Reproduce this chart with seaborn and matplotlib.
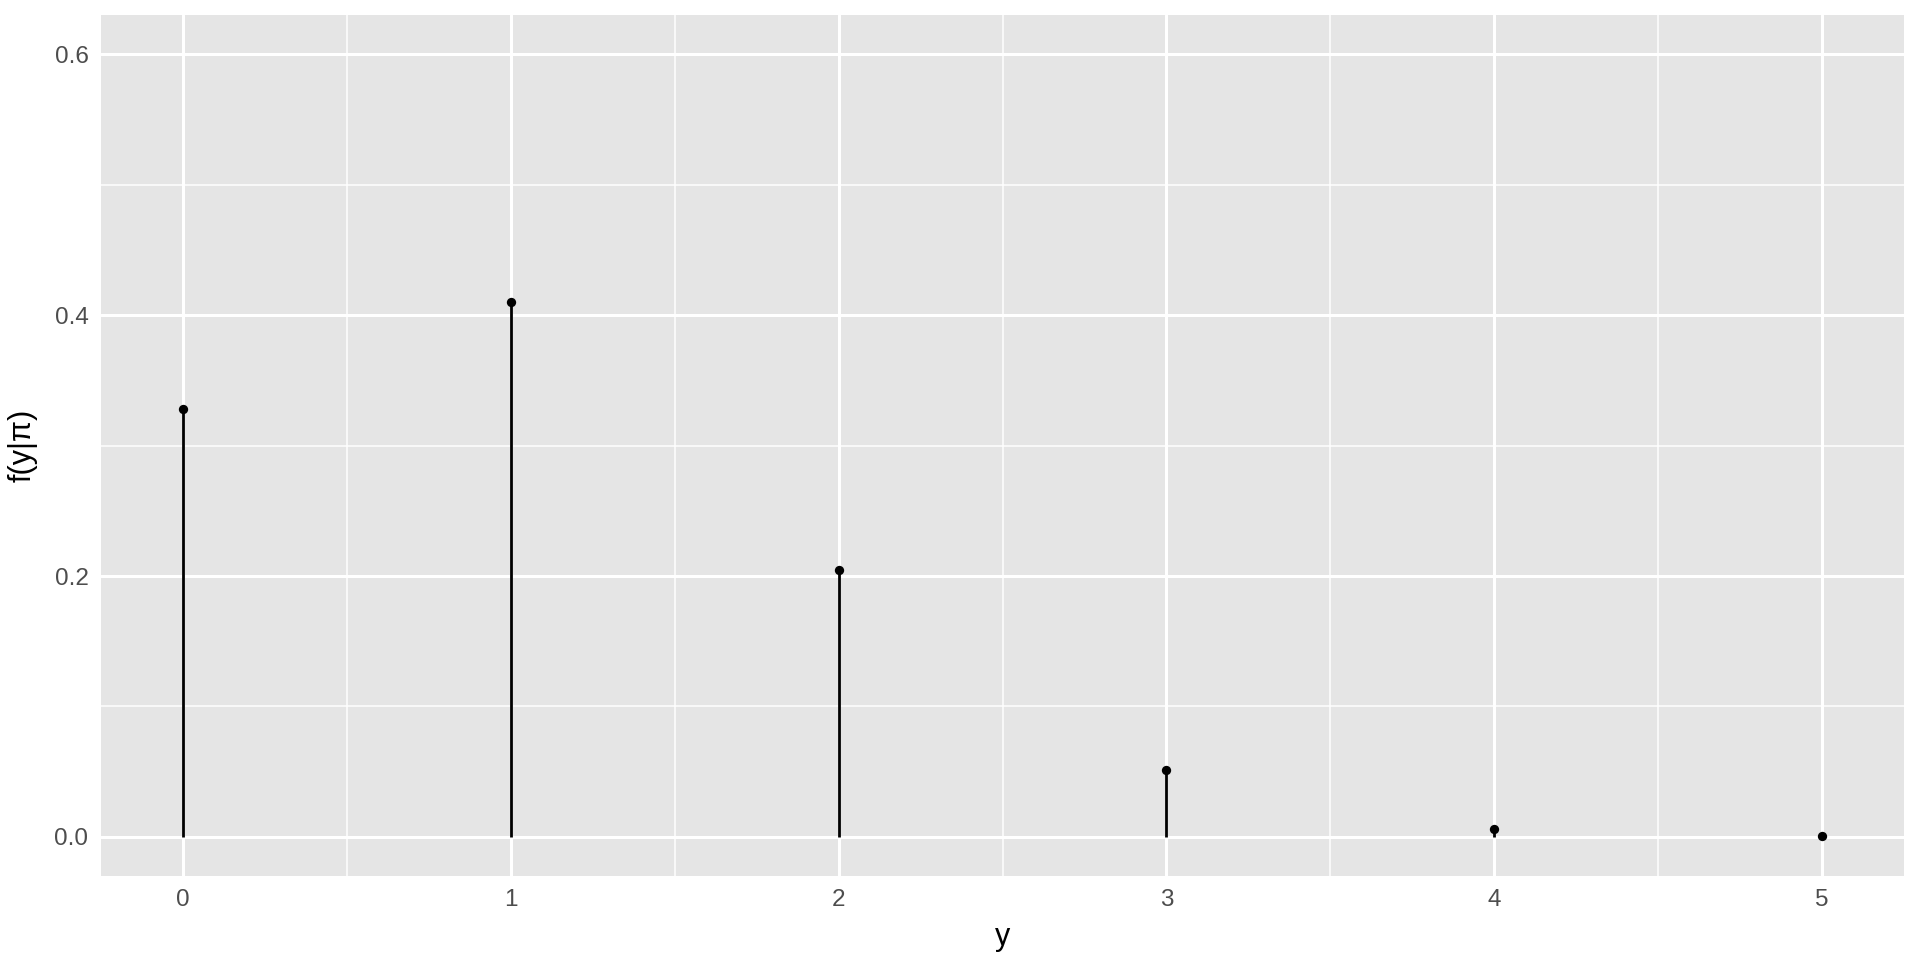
import numpy as np
import pandas as pd
import matplotlib
matplotlib.use("Agg")
import matplotlib.pyplot as plt
import seaborn as sns
from matplotlib.ticker import MultipleLocator

# values
y_vals = [0, 1, 2, 3, 4, 5]
f_vals = [0.328, 0.410, 0.205, 0.051, 0.0064, 0.0003]
x_ticks = [0, 1, 2, 3, 4, 5]
y_ticks = [0.0, 0.2, 0.4, 0.6]

pmfDF = pd.DataFrame({"y": y_vals, "f": f_vals})

sns.set_theme(style="darkgrid", rc={
    "axes.facecolor": "#E5E5E5",
    "grid.color": "white",
    "axes.edgecolor": "#E5E5E5",
})
plt.rcParams["font.family"] = ["Liberation Sans", "DejaVu Sans"]

fig = plt.figure(figsize=(19.2, 9.6), dpi=100)
ax = fig.add_axes([0.0526, 0.0875, 0.9391, 0.8965])

# stems and dots
ax.vlines(pmfDF["y"], 0, pmfDF["f"], color="black", linewidth=2.0, zorder=3)
sns.scatterplot(data=pmfDF, x="y", y="f", color="black", s=45, edgecolor="black",
                linewidth=0, ax=ax, zorder=4)

ax.set_xlim(-0.25, 5.25)
ax.set_ylim(-0.03, 0.63)
ax.set_xticks(x_ticks)
ax.set_yticks(y_ticks)
ax.set_yticklabels([f"{t:.1f}" for t in y_ticks])
ax.xaxis.set_minor_locator(MultipleLocator(0.5))
ax.yaxis.set_minor_locator(MultipleLocator(0.1))

ax.grid(which="major", color="white", linewidth=2.2)
ax.grid(which="minor", color="white", linewidth=1.1)
for s in ax.spines.values():
    s.set_visible(False)

ax.tick_params(axis="both", which="major", length=5, width=2, color="#333333",
               labelsize=17.5, labelcolor="#4D4D4D", pad=4)
ax.tick_params(axis="both", which="minor", length=0)

ax.set_xlabel("y", fontsize=22, color="black", labelpad=8)
ax.set_ylabel("f(y|π)", fontsize=22, color="black", labelpad=12)

fig.savefig("out.png", dpi=100, facecolor="white")
